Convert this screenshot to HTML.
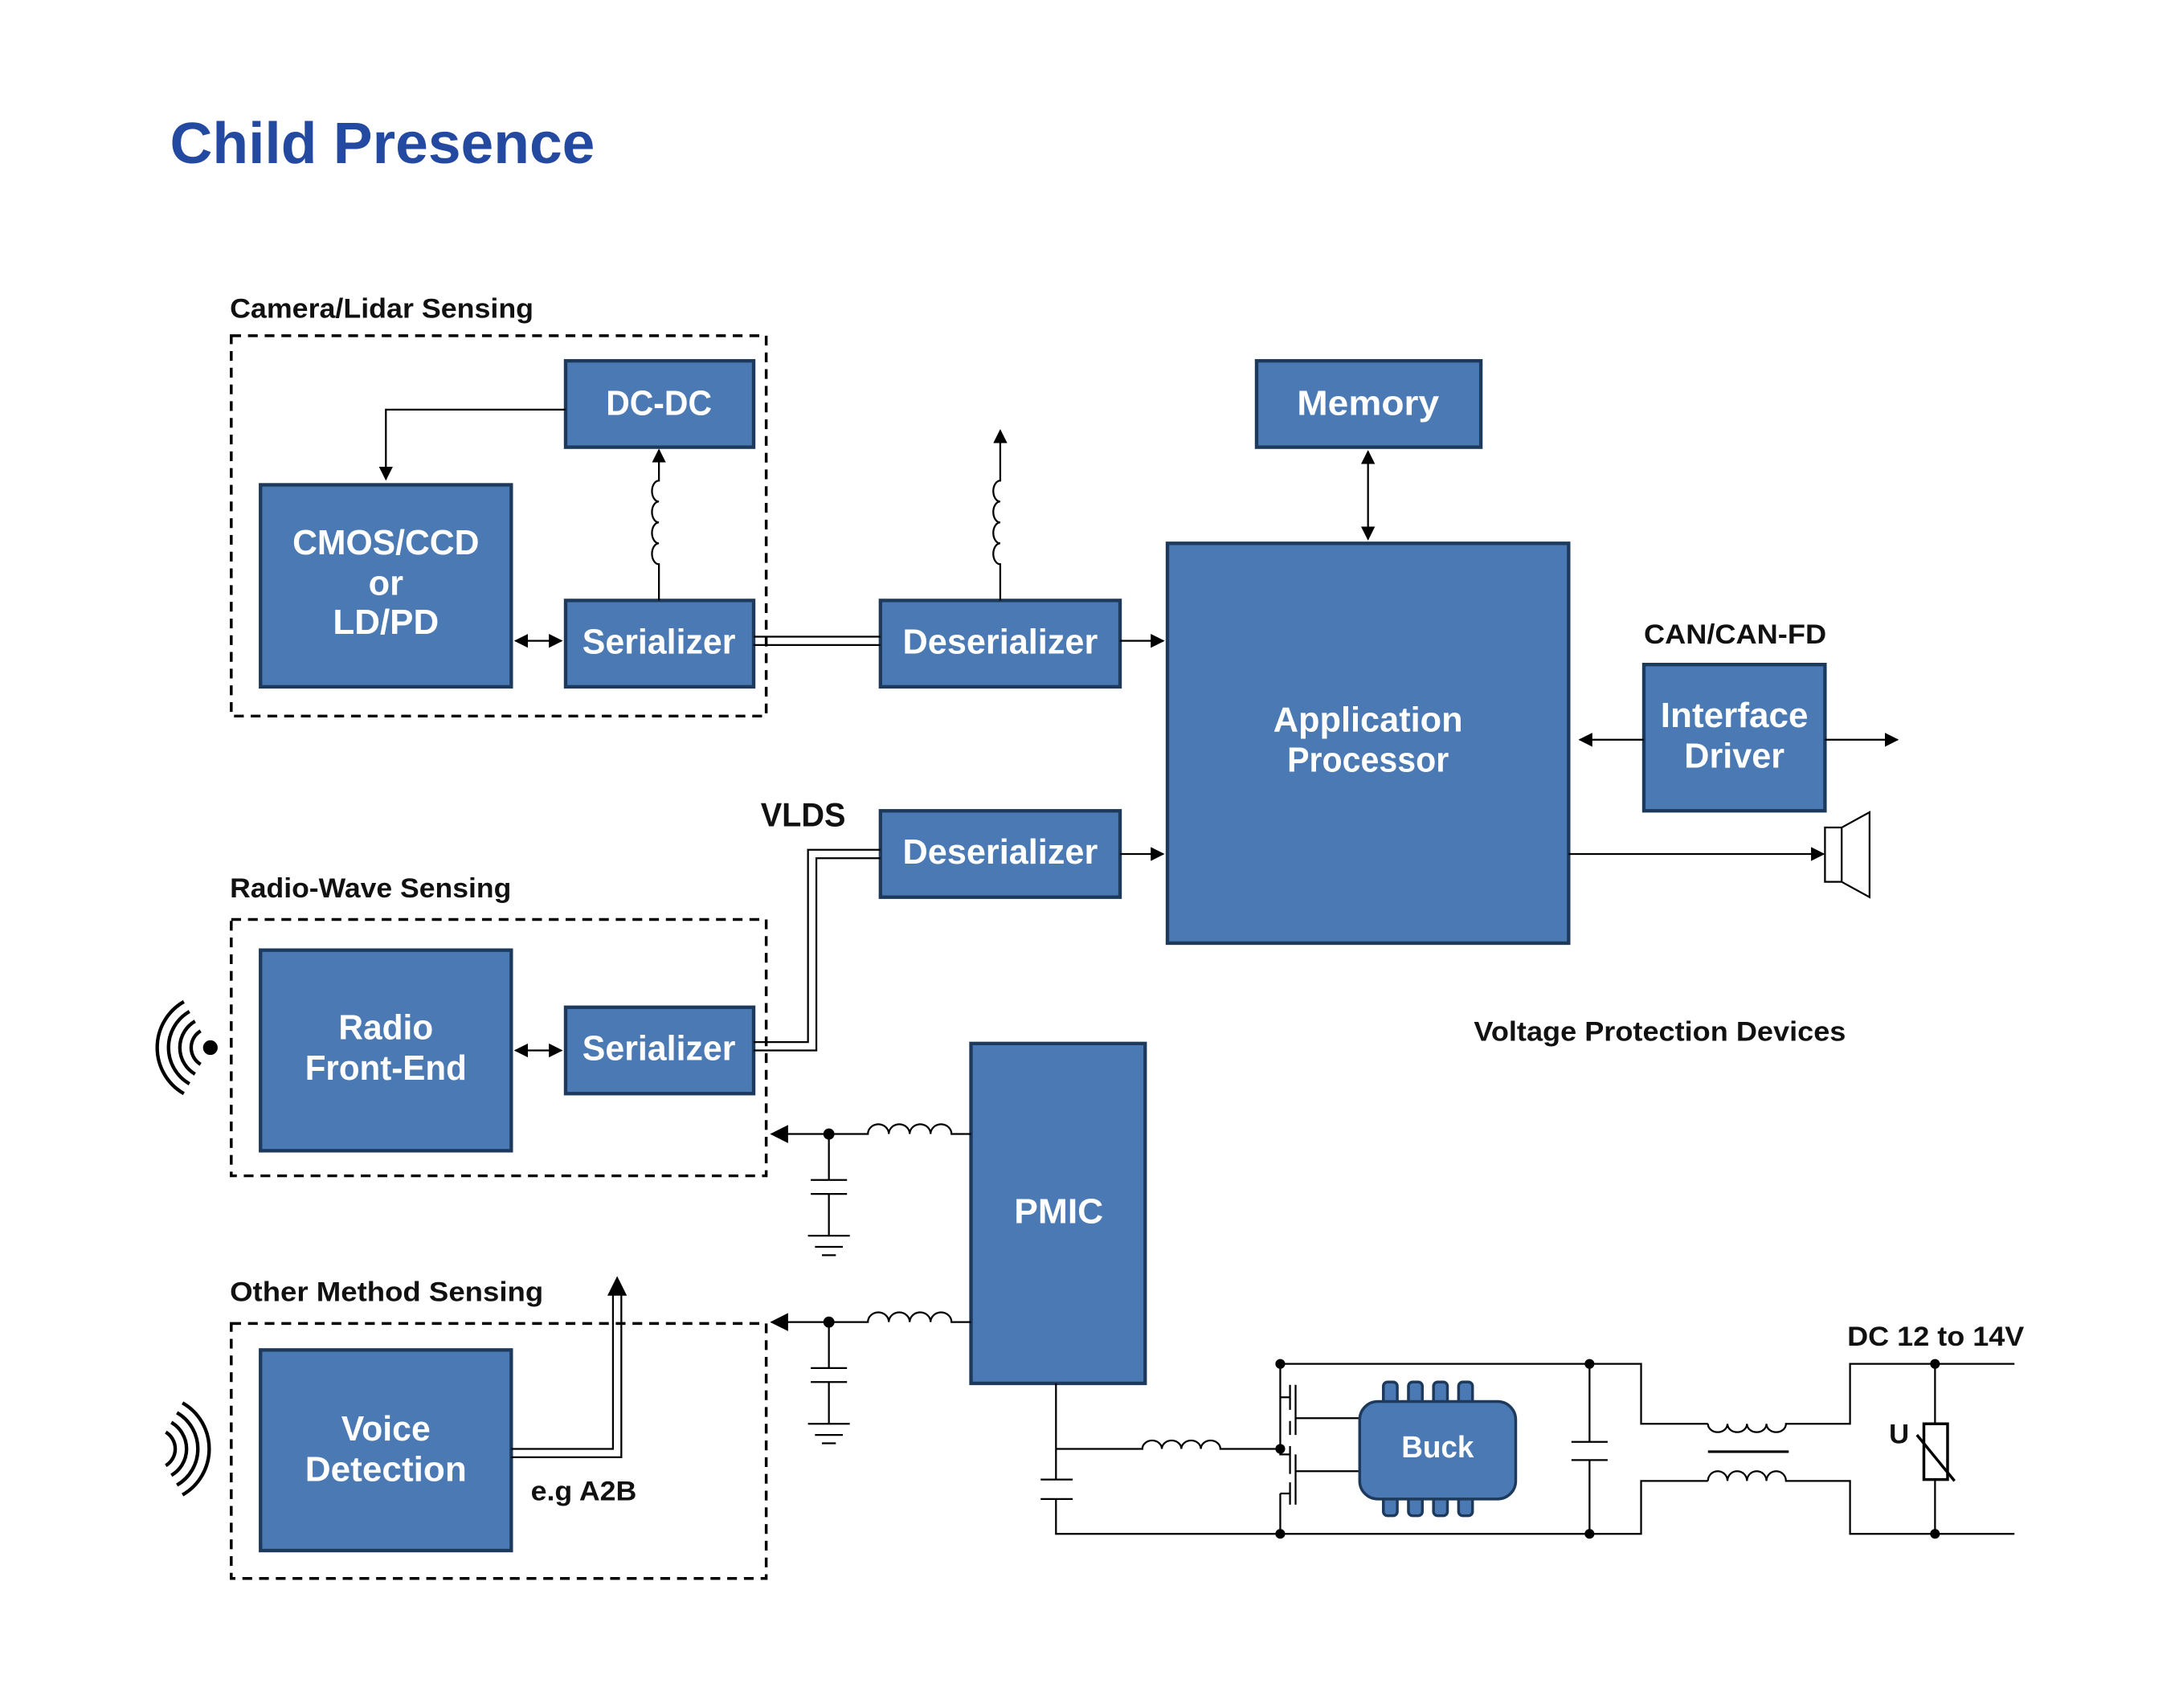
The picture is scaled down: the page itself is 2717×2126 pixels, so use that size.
<!DOCTYPE html>
<html><head><meta charset="utf-8"><style>
html,body{margin:0;padding:0;background:#fff;}
svg{display:block;}
text{font-family:"Liberation Sans",sans-serif;font-weight:bold;}
.b{fill:#4a79b3;stroke:#1d3a5c;stroke-width:2.5;}
.w{fill:#fff;font-size:25px;text-anchor:middle;}
.k{fill:#111;font-size:20px;}
.l{stroke:#000;stroke-width:1.3;fill:none;}
.d{stroke:#000;stroke-width:2;fill:none;stroke-dasharray:7,5;}
</style></head><body>
<svg width="2717" height="2126" viewBox="0 0 1567 1226" preserveAspectRatio="none" xmlns="http://www.w3.org/2000/svg">
<defs>
<marker id="a" viewBox="0 0 10 10" refX="9" refY="5" markerWidth="10" markerHeight="10" markerUnits="userSpaceOnUse" orient="auto-start-reverse"><path d="M0,0L10,5L0,10z" fill="#000"/></marker>
<marker id="a2" viewBox="0 0 10 10" refX="9" refY="5" markerWidth="13" markerHeight="13" markerUnits="userSpaceOnUse" orient="auto-start-reverse"><path d="M0,0L10,5L0,10z" fill="#000"/></marker>
</defs>
<text x="122" y="117" style="font-size:42px;fill:#2449a0" textLength="305" lengthAdjust="spacingAndGlyphs">Child Presence</text>

<text class="k" x="165" y="228" textLength="218" lengthAdjust="spacingAndGlyphs">Camera/Lidar Sensing</text>
<rect class="d" x="166" y="241" width="384" height="273"/>
<rect class="b" x="406" y="259" width="135" height="62"/>
<text class="w" x="473" y="298" textLength="76" lengthAdjust="spacingAndGlyphs">DC-DC</text>
<rect class="b" x="187" y="348" width="180" height="145"/>
<text class="w" x="277" y="398" textLength="134" lengthAdjust="spacingAndGlyphs">CMOS/CCD</text>
<text class="w" x="277" y="427">or</text>
<text class="w" x="277" y="455" textLength="76" lengthAdjust="spacingAndGlyphs">LD/PD</text>
<rect class="b" x="406" y="431" width="135" height="62"/>
<text class="w" x="473" y="469" textLength="110" lengthAdjust="spacingAndGlyphs">Serializer</text>
<rect class="b" x="632" y="431" width="172" height="62"/>
<text class="w" x="718" y="469" textLength="140" lengthAdjust="spacingAndGlyphs">Deserializer</text>
<rect class="b" x="902" y="259" width="161" height="62"/>
<text class="w" x="982" y="298" textLength="102" lengthAdjust="spacingAndGlyphs">Memory</text>
<rect class="b" x="838" y="390" width="288" height="287"/>
<text class="w" x="982" y="525" textLength="136" lengthAdjust="spacingAndGlyphs">Application</text>
<text class="w" x="982" y="554" textLength="116" lengthAdjust="spacingAndGlyphs">Processor</text>
<text class="k" x="1180" y="462" textLength="131" lengthAdjust="spacingAndGlyphs">CAN/CAN-FD</text>
<rect class="b" x="1180" y="477" width="130" height="105"/>
<text class="w" x="1245" y="522" textLength="106" lengthAdjust="spacingAndGlyphs">Interface</text>
<text class="w" x="1245" y="551" textLength="72" lengthAdjust="spacingAndGlyphs">Driver</text>

<text style="font-size:24px;fill:#111" x="546" y="593" textLength="61" lengthAdjust="spacingAndGlyphs">VLDS</text>
<rect class="b" x="632" y="582" width="172" height="62"/>
<text class="w" x="718" y="620" textLength="140" lengthAdjust="spacingAndGlyphs">Deserializer</text>

<text class="k" x="165" y="644" textLength="202" lengthAdjust="spacingAndGlyphs">Radio-Wave Sensing</text>
<rect class="d" x="166" y="660" width="384" height="184"/>
<rect class="b" x="187" y="682" width="180" height="144"/>
<text class="w" x="277" y="746" textLength="68" lengthAdjust="spacingAndGlyphs">Radio</text>
<text class="w" x="277" y="775" textLength="116" lengthAdjust="spacingAndGlyphs">Front-End</text>
<rect class="b" x="406" y="723" width="135" height="62"/>
<text class="w" x="473" y="761" textLength="110" lengthAdjust="spacingAndGlyphs">Serializer</text>

<rect class="b" x="697" y="749" width="125" height="244"/>
<text class="w" x="760" y="878" textLength="64" lengthAdjust="spacingAndGlyphs">PMIC</text>
<text class="k" x="1058" y="747" textLength="267" lengthAdjust="spacingAndGlyphs">Voltage Protection Devices</text>

<text class="k" x="165" y="934" textLength="225" lengthAdjust="spacingAndGlyphs">Other Method Sensing</text>
<rect class="d" x="166" y="950" width="384" height="183"/>
<rect class="b" x="187" y="969" width="180" height="144"/>
<text class="w" x="277" y="1034" textLength="64" lengthAdjust="spacingAndGlyphs">Voice</text>
<text class="w" x="277" y="1063" textLength="116" lengthAdjust="spacingAndGlyphs">Detection</text>
<text class="k" x="381" y="1077" textLength="76" lengthAdjust="spacingAndGlyphs">e.g A2B</text>

<g class="l">
<path d="M406,294H277V344" marker-end="url(#a)"/>
<path d="M370,460H403" marker-start="url(#a)" marker-end="url(#a)"/>
<path d="M370,754H403" marker-start="url(#a)" marker-end="url(#a)"/>
<path d="M473,431V405 a5,7.5 0 1 1 0,-15 a5,7.5 0 1 1 0,-15 a5,7.5 0 1 1 0,-15 a5,7.5 0 1 1 0,-15 V323" marker-end="url(#a)"/>
<path d="M718,431V405 a5,7.5 0 1 1 0,-15 a5,7.5 0 1 1 0,-15 a5,7.5 0 1 1 0,-15 a5,7.5 0 1 1 0,-15 V309" marker-end="url(#a)"/>
<path d="M541,457H632M541,463H632"/>
<path d="M541,748H580V610H632M541,754H586V616H632"/>
<path d="M804,460H835" marker-end="url(#a)"/>
<path d="M804,613H835" marker-end="url(#a)"/>
<path d="M982,324V387" marker-start="url(#a)" marker-end="url(#a)"/>
<path d="M1180,531H1134" marker-end="url(#a)"/>
<path d="M1310,531H1362" marker-end="url(#a)"/>
<path d="M1126,613H1309" marker-end="url(#a)"/>
<path d="M1310,594H1322V633H1310Z M1322,594L1342,583V644L1322,633"/>
<path d="M367,1040H440V926M367,1046H446V926"/>
</g>
<path d="M436,930L443,916L450,930Z" fill="#000"/>

<g class="l">
<path d="M697,814H683 a7.5,7 0 0 0 -15,0 a7.5,7 0 0 0 -15,0 a7.5,7 0 0 0 -15,0 a7.5,7 0 0 0 -15,0 H554" marker-end="url(#a2)"/>
<path d="M595,814V847M582,847H608M582,857H608M595,857V887M580,887H610M585,895H605M590,901H600"/>
<path d="M697,949H683 a7.5,7 0 0 0 -15,0 a7.5,7 0 0 0 -15,0 a7.5,7 0 0 0 -15,0 a7.5,7 0 0 0 -15,0 H554" marker-end="url(#a2)"/>
<path d="M595,949V982M582,982H608M582,992H608M595,992V1022M580,1022H610M585,1030H605M590,1036H600"/>
</g>
<circle cx="595" cy="814" r="4"/><circle cx="595" cy="949" r="4"/>

<g class="l" style="stroke-width:2.5">
<circle cx="151" cy="752" r="4" fill="#000"/>
<path d="M144,740 A14,14 0 0 0 144,764 M140,733 A22,22 0 0 0 140,771 M136,726 A30,30 0 0 0 136,778 M132,719 A38,38 0 0 0 132,785"/>
<path d="M119,1028 A14,14 0 0 1 119,1052 M123,1021 A22,22 0 0 1 123,1059 M127,1014 A30,30 0 0 1 127,1066 M131,1007 A38,38 0 0 1 131,1073"/>
</g>

<g class="l">
<path d="M758,993V1062M747,1062H770M747,1076H770M758,1076V1101H1178V1063H1226"/>
<path d="M758,1040H820 a7,6 0 0 1 14,0 a7,6 0 0 1 14,0 a7,6 0 0 1 14,0 a7,6 0 0 1 14,0 H919"/>
<path d="M919,979H1178V1022H1226"/>
<path d="M919,979V1003H926M926,994V1012M930,994V1030M930,1018H976M926,1020V1030M919,1003V1040M919,1040V1044H926M926,1038V1058M930,1044V1080M930,1056H976M926,1064V1080M919,1072H926M919,1072V1101"/>
<path d="M1141,979V1035M1128,1035H1154M1128,1048H1154M1141,1048V1101"/>
<path d="M1226,1022 a7,6 0 0 0 14,0 a7,6 0 0 0 14,0 a7,6 0 0 0 14,0 a7,6 0 0 0 14,0 H1328V979H1446"/>
<path d="M1226,1063 a7,7 0 0 1 14,0 a7,7 0 0 1 14,0 a7,7 0 0 1 14,0 a7,7 0 0 1 14,0 H1328V1101H1446"/>
<path d="M1226,1042H1284" style="stroke-width:1.8"/>
<path d="M1389,979V1022M1389,1062V1101"/>
</g>
<rect x="1381" y="1022" width="17" height="40" fill="#fff" stroke="#000" stroke-width="2"/>
<path d="M1376,1030L1403,1063" stroke="#000" stroke-width="2"/>
<text class="k" x="1356" y="1036">U</text>
<circle cx="919" cy="979" r="3.5"/><circle cx="919" cy="1101" r="3.5"/><circle cx="919" cy="1040" r="3.5"/>
<circle cx="1141" cy="979" r="3.5"/><circle cx="1141" cy="1101" r="3.5"/>
<circle cx="1389" cy="979" r="3.5"/><circle cx="1389" cy="1101" r="3.5"/>
<g class="b" style="stroke-width:2">
<rect x="993" y="992" width="10" height="20" rx="3"/><rect x="1011" y="992" width="10" height="20" rx="3"/><rect x="1029" y="992" width="10" height="20" rx="3"/><rect x="1047" y="992" width="10" height="20" rx="3"/>
<rect x="993" y="1070" width="10" height="18" rx="3"/><rect x="1011" y="1070" width="10" height="18" rx="3"/><rect x="1029" y="1070" width="10" height="18" rx="3"/><rect x="1047" y="1070" width="10" height="18" rx="3"/>
<rect x="976" y="1006" width="112" height="70" rx="13"/>
</g>
<text class="w" style="font-size:22px" x="1032" y="1046" textLength="52" lengthAdjust="spacingAndGlyphs">Buck</text>
<text class="k" x="1326" y="966" textLength="127" lengthAdjust="spacingAndGlyphs">DC 12 to 14V</text>
</svg>
</body></html>
